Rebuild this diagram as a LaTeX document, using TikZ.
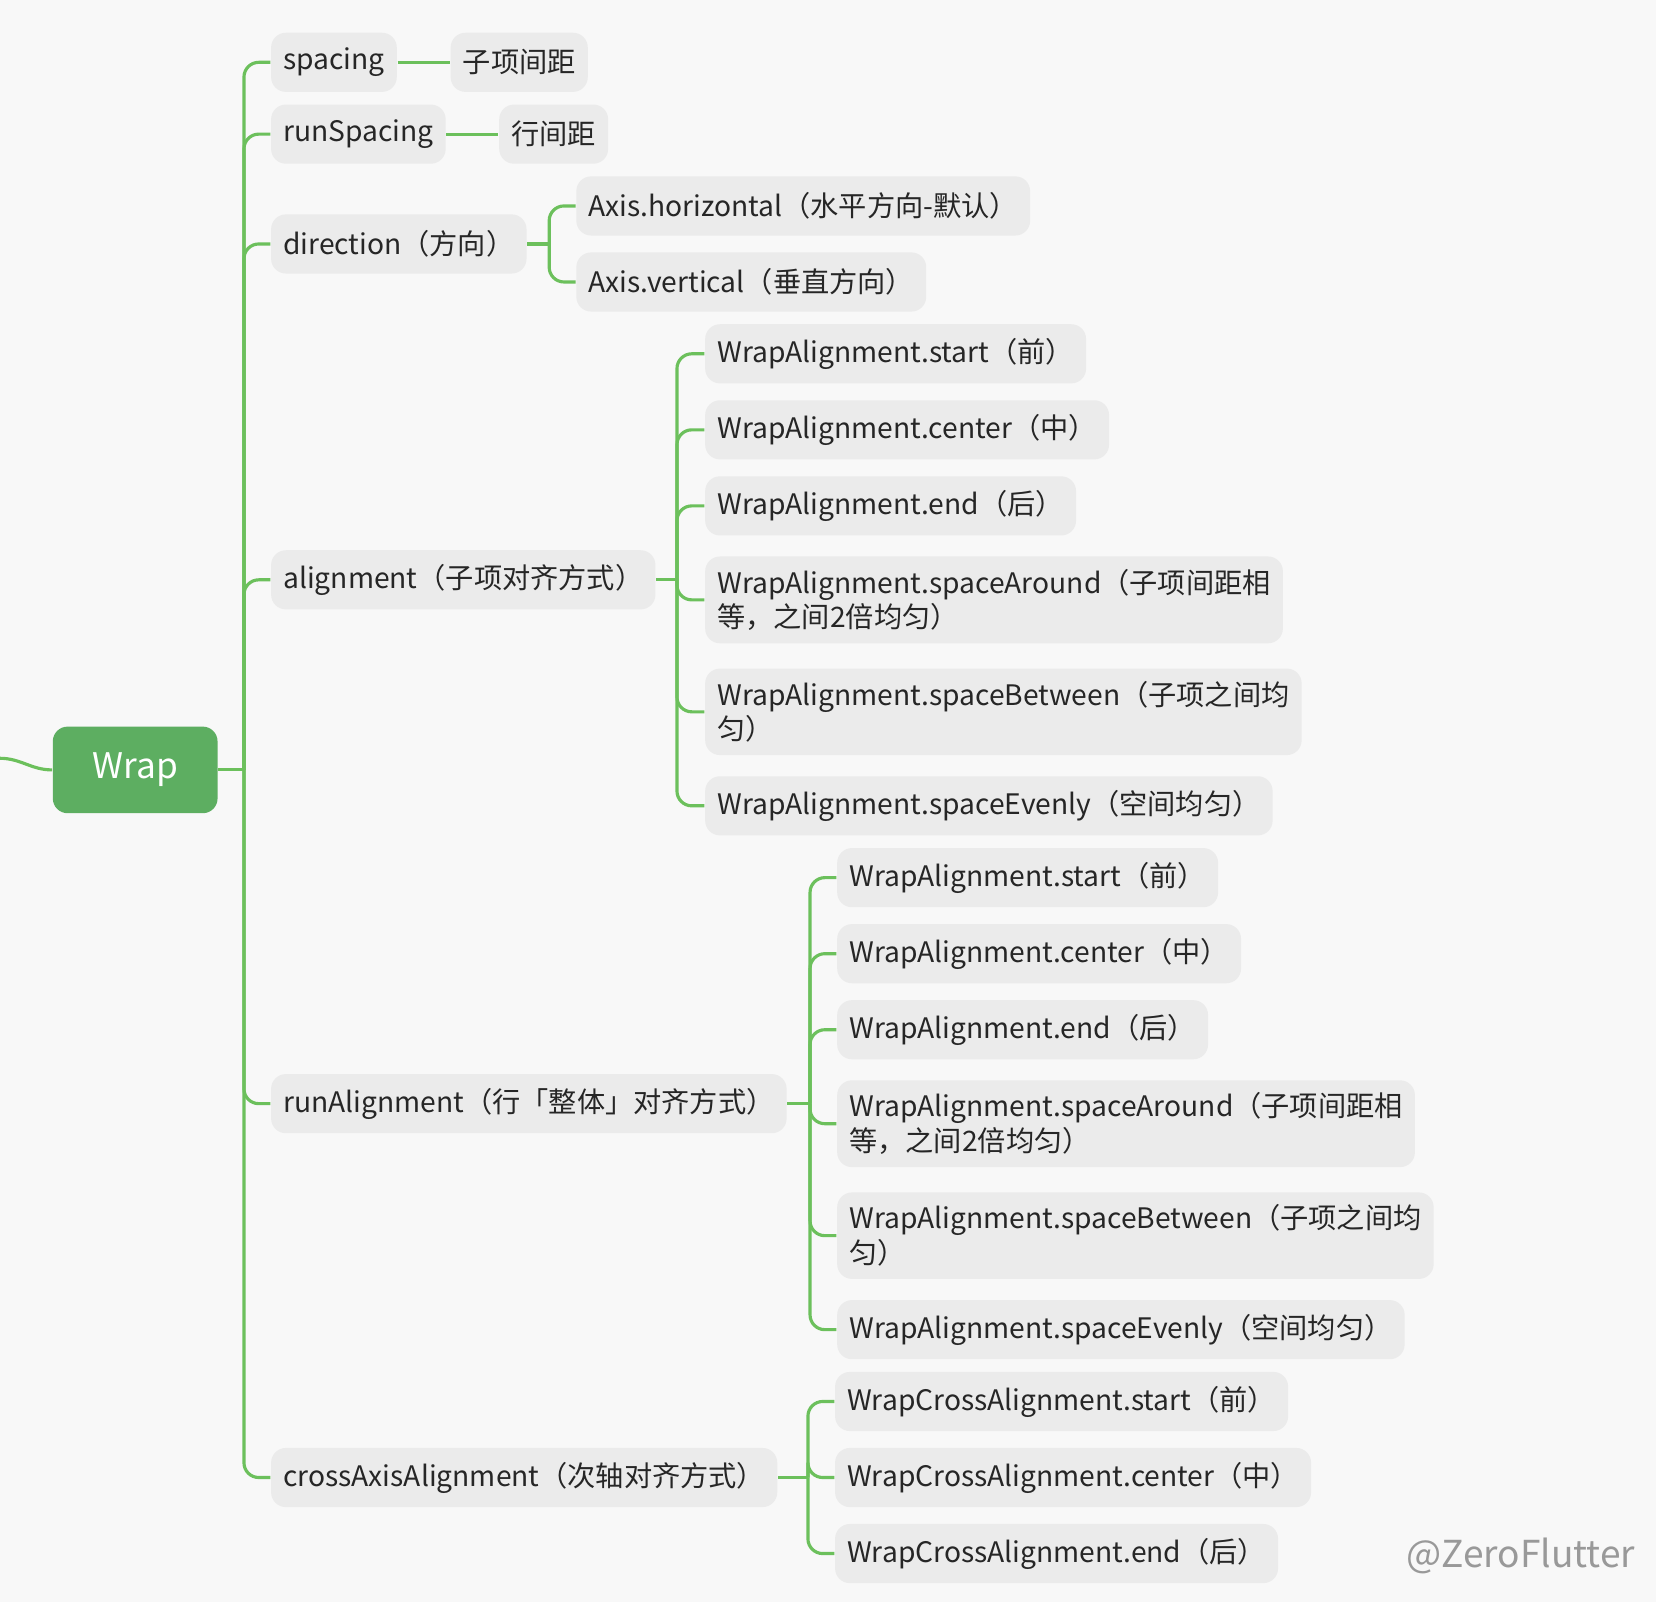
\documentclass[tikz,border=0pt]{standalone}
\usepackage{fontspec}
\setmainfont{Noto Sans CJK SC}
\usetikzlibrary{positioning}
\definecolor{bgc}{HTML}{F8F8F8}
\definecolor{boxc}{HTML}{EBEBEB}
\definecolor{linec}{HTML}{6CC05C}
\definecolor{rootc}{HTML}{5DAE61}
\tikzset{
  leaf/.style={anchor=west,fill=boxc,rounded corners=1.4mm,minimum height=5.6mm,
    inner xsep=1.15mm,align=left,font=\fontsize{7.6}{9.4}\selectfont,text=black!85},
  conn/.style={draw=linec,line width=0.85pt,rounded corners=1.4mm},
}
\begin{document}
\begin{tikzpicture}[x=0.1mm,y=-0.1mm]
\fill[bgc] (0,0) rectangle (1568,1517);
\useasboundingbox (0,0) rectangle (1568,1517);
% root
\node[fill=rootc,rounded corners=1.4mm,minimum width=15.6mm,minimum height=8.2mm,
  text=white,font=\fontsize{9.5}{11}\selectfont] (wrap) at (128,729) {Wrap};
\coordinate (stub) at (0,718);
\draw[conn] (stub) to[out=0,in=180] (wrap.west);
% first level
\node[leaf] (spacing) at (256,59) {spacing};
\node[leaf] (runspacing) at (256,127) {runSpacing};
\node[leaf] (direction) at (256,231) {direction（方向）};
\node[leaf] (alignment) at (256,549) {alignment（子项对齐方式）};
\node[leaf] (runalign) at (256,1045) {runAlignment（行「整体」对齐方式）};
\node[leaf] (crossalign) at (256,1399) {crossAxisAlignment（次轴对齐方式）};
% second level
\node[leaf] (spacing_1) at (426,59) {子项间距};
\node[leaf] (runspacing_1) at (472,127) {行间距};
\node[leaf] (dir_1) at (545,195) {Axis.horizontal（水平方向-默认）};
\node[leaf] (dir_2) at (545,267) {Axis.vertical（垂直方向）};
\node[leaf] (al_1) at (667,335) {WrapAlignment.start（前）};
\node[leaf] (al_2) at (667,407) {WrapAlignment.center（中）};
\node[leaf] (al_3) at (667,479) {WrapAlignment.end（后）};
\node[leaf] (al_4) at (667,568) {WrapAlignment.spaceAround（子项间距相\\等，之间2倍均匀）};
\node[leaf] (al_5) at (667,674) {WrapAlignment.spaceBetween（子项之间均\\匀）};
\node[leaf] (al_6) at (667,763) {WrapAlignment.spaceEvenly（空间均匀）};
\node[leaf] (ra_1) at (792,831) {WrapAlignment.start（前）};
\node[leaf] (ra_2) at (792,903) {WrapAlignment.center（中）};
\node[leaf] (ra_3) at (792,975) {WrapAlignment.end（后）};
\node[leaf] (ra_4) at (792,1064) {WrapAlignment.spaceAround（子项间距相\\等，之间2倍均匀）};
\node[leaf] (ra_5) at (792,1170) {WrapAlignment.spaceBetween（子项之间均\\匀）};
\node[leaf] (ra_6) at (792,1259) {WrapAlignment.spaceEvenly（空间均匀）};
\node[leaf] (ca_1) at (790,1327) {WrapCrossAlignment.start（前）};
\node[leaf] (ca_2) at (790,1399) {WrapCrossAlignment.center（中）};
\node[leaf] (ca_3) at (790,1471) {WrapCrossAlignment.end（后）};
% connectors
\coordinate (wrap_j) at (231,729);
\coordinate (dir_j) at (520,231);
\coordinate (al_j) at (641,549);
\coordinate (ra_j) at (767,1045);
\coordinate (ca_j) at (765,1399);
\draw[conn] (wrap.east) -- (wrap_j);
\draw[conn] (direction.east) -- (dir_j);
\draw[conn] (alignment.east) -- (al_j);
\draw[conn] (runalign.east) -- (ra_j);
\draw[conn] (crossalign.east) -- (ca_j);
\foreach \c in {spacing,runspacing,direction,alignment,runalign,crossalign}
  \draw[conn] (wrap_j) |- (\c.west);
\draw[conn] (spacing) -- (spacing_1);
\draw[conn] (runspacing) -- (runspacing_1);
\foreach \c in {dir_1,dir_2}
  \draw[conn] (dir_j) |- (\c.west);
\foreach \c in {al_1,al_2,al_3,al_4,al_5,al_6}
  \draw[conn] (al_j) |- (\c.west);
\foreach \c in {ra_1,ra_2,ra_3,ra_4,ra_5,ra_6}
  \draw[conn] (ra_j) |- (\c.west);
\foreach \c in {ca_1,ca_2,ca_3}
  \draw[conn] (ca_j) |- (\c.west);
% watermark
\node[text=black!40,font=\fontsize{10}{12}\selectfont] (mark) at (1440,1473) {@ZeroFlutter};
\end{tikzpicture}
\end{document}
